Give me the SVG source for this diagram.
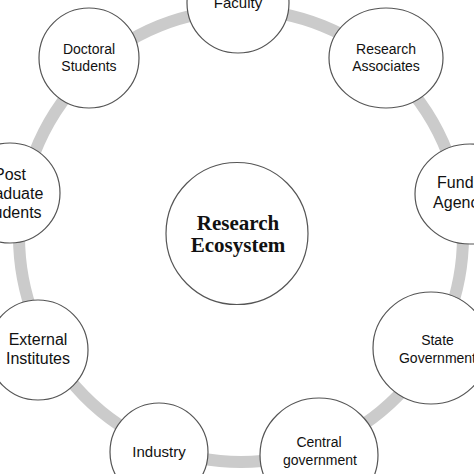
<svg xmlns="http://www.w3.org/2000/svg" width="474" height="474" viewBox="0 0 474 474">
<style>
.n{fill:#fff;stroke:#555;stroke-width:1.2}
.t{font-family:"Liberation Sans",Arial,sans-serif;fill:#111;text-anchor:middle}
.c{font-family:"Liberation Serif","Times New Roman",serif;font-weight:bold;font-size:21px;fill:#111;text-anchor:middle}
</style>
<rect width="474" height="474" fill="#fff"/>
<g id="connectors">
<ellipse cx="241" cy="236" rx="222" ry="226" fill="none" stroke="#cbcbcb" stroke-width="12"/>
</g>
<g id="faculty"><ellipse class="n" cx="238" cy="3" rx="51" ry="50"/><text class="t" x="238" y="8" font-size="15">Faculty</text></g>
<g id="doctoral"><ellipse class="n" cx="89" cy="58" rx="50" ry="50"/><text class="t" x="89" y="54" font-size="14">Doctoral</text><text class="t" x="89" y="71" font-size="14">Students</text></g>
<g id="associates"><ellipse class="n" cx="386" cy="58" rx="57" ry="50"/><text class="t" x="386" y="54" font-size="14">Research</text><text class="t" x="386" y="71" font-size="14">Associates</text></g>
<g id="postgrad"><ellipse class="n" cx="10" cy="193" rx="50" ry="50"/><text class="t" x="10" y="180" font-size="16">Post</text><text class="t" x="10" y="199" font-size="16">Graduate</text><text class="t" x="10" y="218" font-size="16">Students</text></g>
<g id="funding"><ellipse class="n" cx="470" cy="194" rx="55" ry="50"/><text class="t" x="466" y="188" font-size="16">Funding</text><text class="t" x="466" y="208" font-size="16">Agencies</text></g>
<g id="ecosystem"><ellipse class="n" cx="237" cy="233.5" rx="71" ry="71"/><text class="c" x="238" y="230">Research</text><text class="c" x="238" y="252">Ecosystem</text></g>
<g id="external"><ellipse class="n" cx="38" cy="350" rx="50" ry="50"/><text class="t" x="38" y="345" font-size="16">External</text><text class="t" x="38" y="364" font-size="16">Institutes</text></g>
<g id="state"><ellipse class="n" cx="431" cy="348" rx="58" ry="56"/><text class="t" x="437.5" y="345" font-size="14">State</text><text class="t" x="437.5" y="363" font-size="14">Government</text></g>
<g id="industry"><ellipse class="n" cx="159" cy="452" rx="49" ry="49"/><text class="t" x="159" y="457" font-size="15">Industry</text></g>
<g id="central"><ellipse class="n" cx="319" cy="455" rx="59" ry="57"/><text class="t" x="319" y="447" font-size="14">Central</text><text class="t" x="320" y="465" font-size="14">government</text></g>
</svg>
